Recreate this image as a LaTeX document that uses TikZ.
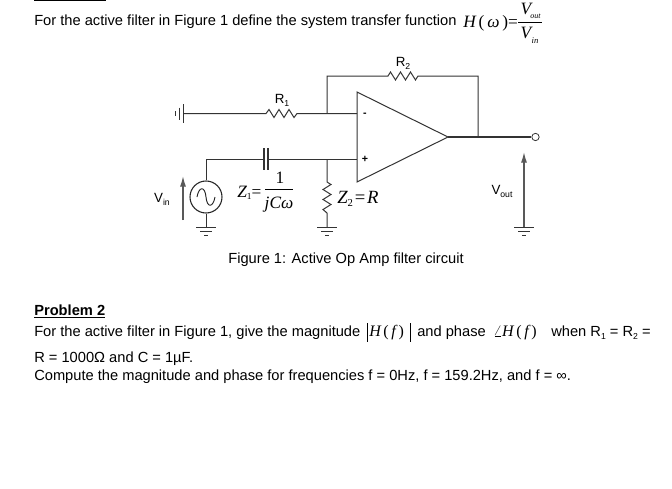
\documentclass[tikz,border=0pt]{standalone}
\usepackage{fontspec}
\setmainfont{Liberation Sans}
\newfontfamily\serifit[Ligatures=TeX]{Liberation Serif}
\newcommand{\mi}[1]{{\serifit\itshape #1}}
\newcommand{\mr}[1]{{\serifit #1}}
\newcommand{\subs}[1]{\raisebox{-0.25em}{\fontsize{6.5}{7}\selectfont #1}}
\usetikzlibrary{arrows.meta,calc}
\tikzset{
  wire/.style={draw=black!80,line width=0.75pt,line join=miter},
  body/.style={inner sep=0pt,anchor=base west,font=\fontsize{11}{12}\selectfont},
  lab/.style={inner sep=0pt,font=\fontsize{10}{11}\selectfont},
  eqn/.style={inner sep=0pt,font=\fontsize{13}{14}\selectfont},
  flow/.style={draw=black!65,line width=1pt,-{Latex[length=8pt,width=4.5pt]}},
  pinmark/.style={inner sep=0pt,font=\bfseries\fontsize{8}{9}\selectfont},
  terminal/.style={circle,draw=black!80,fill=white,line width=0.6pt,minimum size=5.5pt,inner sep=0pt},
  source/.style={circle,draw=black!85,line width=0.8pt,minimum size=24pt,inner sep=0pt}
}
\newcommand{\gnd}[1]{%
  \draw[wire] ($(#1)+(-10,0)$) -- ($(#1)+(10,0)$);
  \draw[wire] ($(#1)+(-6,4)$) -- ($(#1)+(6,4)$);
  \draw[wire] ($(#1)+(-2,8)$) -- ($(#1)+(2,8)$);}
\begin{document}
\begin{tikzpicture}[x=0.75pt,y=-0.75pt]
\useasboundingbox (0,0) rectangle (672,489);
\fill[white] (0,0) rectangle (672,489);
\fill[black] (34,0) rectangle (106,1.2);

% header
\node[body] (intro) at (34,26) {For the active filter in Figure 1 define the system transfer function};
\node[inner sep=0pt,anchor=base west,font=\fontsize{13}{14}\selectfont] (hw) at (463,27) {\mi{H}\,\mr{(}\,\mi{ω}\,\mr{)}\mr{=}};
\node[eqn,anchor=base] (vo) at (526,15) {\mi{V}};
\node[inner sep=0pt,anchor=base,font=\fontsize{6}{7}\selectfont] (vos) at (535.5,18) {\mi{out}};
\node[eqn,anchor=base] (vi) at (526,38) {\mi{V}};
\node[inner sep=0pt,anchor=base,font=\fontsize{6.5}{7}\selectfont] (vis) at (535,43) {\mi{in}};
\coordinate (fa) at (518,22); \coordinate (fb) at (542,22);
\draw[line width=0.6pt] (fa) -- (fb);

% circuit coordinates
\coordinate (g1) at (183,113.5);
\coordinate (r1a) at (266,113.5);
\coordinate (r1b) at (297,113.5);
\coordinate (jm) at (327,113.5);
\coordinate (jt) at (327,76);
\coordinate (r2a) at (388,76);
\coordinate (r2b) at (418,76);
\coordinate (fbk) at (478,76);
\coordinate (jo) at (478,137);
\coordinate (oa) at (357,92);
\coordinate (ob) at (357,182);
\coordinate (oc) at (448,137);
\coordinate (im) at (357,113.5);
\coordinate (ip) at (357,159);
\coordinate (jp) at (327,159);
\coordinate (c1) at (264,159);
\coordinate (c2) at (268,159);
\coordinate (st) at (206,159);
\coordinate (g2) at (206,227);
\coordinate (r3a) at (327,182);
\coordinate (r3b) at (327,213);
\coordinate (g3) at (327,227);
\coordinate (g4) at (524,227);
\coordinate (at) at (524,152);
\coordinate (av) at (183,176);
\coordinate (avb) at (183,220);

\node[source] (src) at (206,197) {};
\node[terminal] (term) at (535.5,137) {};

% inverting branch
\draw[wire] (g1) -- (r1a) -- ++(3,-4) -- ++(5,8) -- ++(5,-8) -- ++(5,8) -- ++(5,-8) -- ++(5,8) -- (r1b) -- (im);
\draw[wire] (jm) -- (jt) -- (r2a) -- ++(2.5,-4) -- ++(5,8) -- ++(5,-8) -- ++(5,8) -- ++(5,-8) -- ++(5,8) -- (r2b) -- (fbk) -- (jo);
% left ground symbol
\draw[wire] (183,104) -- (183,123);
\draw[wire] (179,107.5) -- (179,119.5);
\draw[wire] (175.5,111) -- (175.5,116);
% op amp
\draw[wire] (oa) -- (ob) -- (oc) -- cycle;
\draw[wire,line width=1pt] (oc) -- (term);
\node[pinmark] (minus) at (365,114.5) {-};
\node[pinmark] (plus) at (365,159) {+};
% noninverting
\draw[wire] (src) -- (st) -- (c1);
\draw[wire] (c2) -- (ip);
\draw[wire,line width=1pt] (264,148) -- (264,170);
\draw[wire,line width=1pt] (268,148) -- (268,170);
\draw[wire] (src) -- (g2);
\gnd{g2}
\draw[line width=0.7pt,draw=black!85] (197,197) .. controls (199,186) and (205,186) .. (206,197) .. controls (207,208) and (213,208) .. (215,197);
\draw[wire] (jp) -- (r3a) -- ++(4,2.5) -- ++(-8,5) -- ++(8,5) -- ++(-8,5) -- ++(8,5) -- ++(-8,5) -- (r3b) -- (g3);
\gnd{g3}
\draw[flow] (avb) -- (av);
\draw[flow] (g4) -- (at);
\gnd{g4}

% labels
\node[lab,anchor=base] (lr1) at (282,103) {R\subs{1}};
\node[lab,anchor=base] (lr2) at (403,66) {R\subs{2}};
\node[lab,anchor=base] (lvin) at (162,202) {V\subs{in}};
\node[lab,anchor=base] (lvout) at (502,194) {V\subs{out}};
\node[eqn,anchor=base west] (z1) at (237,197) {\mi{Z}\raisebox{-2pt}{\fontsize{7}{8}\selectfont\mr{1}}\mr{=}};
\node[eqn,anchor=base] (one) at (280,183) {\mr{1}};
\draw[line width=0.6pt] (265,189.5) -- (293,189.5);
\node[eqn,anchor=base] (jcw) at (279,208) {\mi{jCω}};
\node[inner sep=0pt,anchor=base west,font=\fontsize{14}{15}\selectfont] (z2) at (337,203) {\mi{Z}\raisebox{-2.5pt}{\fontsize{8}{9}\selectfont\mr{2}}\hspace{0.1em}\mr{=}\hspace{0.1em}\mi{R}};
\node[inner sep=0pt,anchor=base,font=\fontsize{11}{12}\selectfont] (cap) at (346,263) {Figure 1: Active Op Amp filter circuit};

% problem text
\node[body] (prob) at (34,315) {\bfseries Problem 2};
\draw[line width=0.7pt] (34,317.5) -- (105,317.5);
\node[body] (l2a) at (34,336) {For the active filter in Figure 1, give the magnitude};
\node[inner sep=0pt,anchor=base west,font=\fontsize{12}{13}\selectfont] (l2b) at (369,336) {\mi{H}\,\mr{(}\,\mi{f}\,\mr{)}};
\draw[line width=0.6pt] (367,323) -- (367,342);
\draw[line width=0.6pt] (410,323) -- (410,342);
\node[body] (l2c) at (417,336) {and phase};
\node[inner sep=0pt,anchor=base west,font=\fontsize{12}{13}\selectfont] (l2d) at (493,336) {$\angle$\mi{H}\,\mr{(}\,\mi{f}\,\mr{)}};
\node[body] (l2e) at (551,336) {when R\subs{1} = R\subs{2} =};
\node[body] (l3) at (34,362) {R = 1000Ω and C = 1µF.};
\node[body] (l4) at (34,380) {Compute the magnitude and phase for frequencies f = 0Hz, f = 159.2Hz, and f = ∞.};
\end{tikzpicture}
\end{document}
